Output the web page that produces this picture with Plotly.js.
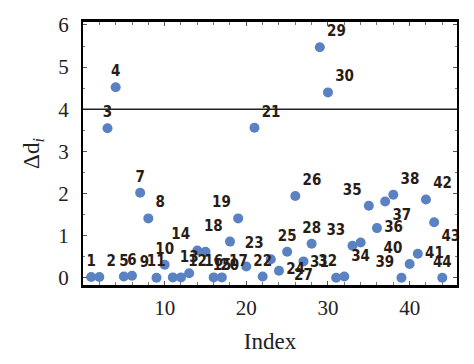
<!DOCTYPE html>
<html>
<head>
<meta charset="utf-8">
<script src="https://cdn.plot.ly/plotly-3.0.1.min.js"></script>
<style>html,body{margin:0;padding:0;background:#fff;}#chart{width:474px;height:364px;}</style>
</head>
<body>
<div id="chart"></div>
<script>
// Data
const indices = [1,2,3,4,5,6,7,8,9,10,11,12,13,14,15,16,17,18,19,20,21,22,23,24,25,26,27,28,29,30,31,32,33,34,35,36,37,38,39,40,41,42,43,44];
const deltaD = [0.02,0.02,3.55,4.52,0.03,0.05,2.02,1.41,0.0,0.31,0.01,0.01,0.11,0.65,0.62,0.01,0.01,0.86,1.41,0.27,3.56,0.03,0.44,0.17,0.62,1.94,0.39,0.81,5.47,4.40,0.0,0.03,0.76,0.84,1.71,1.18,1.81,1.97,0.0,0.33,0.57,1.86,1.32,0.0];
const pointLabels = indices.map(String);
const labelPositions = ['top center','top right','top center','top center','top center','top center','top center','top right','top left','top center',
  'top left','top right','top center','top left','bottom right','top center','top right','top left','top left','middle left',
  'top right','top center','top left','middle right','top center','top right','bottom center','top center','top right','top right',
  'top left','top left','top left','bottom center','top left','middle right','bottom right','top right','top left','top left',
  'middle right','top right','bottom right','top center'];
const threshold = 4;
const xTicks = [10,20,30,40];
const yTicks = [0,1,2,3,4,5,6];

const serif = '"Liberation Serif", "Times New Roman", serif';

const trace = {
  x: indices, y: deltaD, type: 'scatter', mode: 'markers+text',
  text: pointLabels, textposition: labelPositions,
  textfont: {family: '"Liberation Sans Narrow", "DejaVu Sans Condensed", sans-serif', size: 15, color: '#2a1c14', weight: 'bold'},
  marker: {color: '#5a82c2', size: 10},
  cliponaxis: false, hoverinfo: 'none'
};

const layout = {
  width: 474, height: 364,
  margin: {l: 83, r: 17, t: 22, b: 79},
  paper_bgcolor: '#fff', plot_bgcolor: '#fff',
  showlegend: false,
  xaxis: {
    range: [0, 45.8], tickvals: xTicks, ticktext: xTicks.map(String),
    showgrid: false, zeroline: false,
    showline: true, linecolor: '#000', linewidth: 3, mirror: 'allticks',
    ticks: 'inside', ticklen: 4, tickcolor: '#555', tickwidth: 1,
    minor: {dtick: 2, ticks: 'inside', ticklen: 3, tickcolor: '#777', showgrid: false},
    tickfont: {family: serif, size: 21, color: '#222'},
    ticklabelstandoff: 2,
    title: {text: 'Index', font: {family: serif, size: 23, color: '#222'}, standoff: 14}
  },
  yaxis: {
    range: [-0.17, 6.07], tickvals: yTicks, ticktext: yTicks.map(String),
    showgrid: false, zeroline: false,
    showline: true, linecolor: '#000', linewidth: 2, mirror: 'allticks',
    ticks: 'inside', ticklen: 4, tickcolor: '#555', tickwidth: 1,
    minor: {dtick: 0.5, ticks: 'inside', ticklen: 2, tickcolor: '#777', showgrid: false},
    tickfont: {family: serif, size: 21, color: '#222'},
    ticklabelstandoff: 8,
    title: {text: 'Δd<sub><i>i</i></sub>', font: {family: serif, size: 23, color: '#222'}, standoff: 12}
  },
  shapes: [{type: 'line', xref: 'paper', x0: 0, x1: 1, yref: 'y', y0: threshold, y1: threshold, line: {color: '#222', width: 1.5}}]
};

Plotly.newPlot('chart', [trace], layout, {displayModeBar: false, staticPlot: true});
</script>
</body>
</html>
